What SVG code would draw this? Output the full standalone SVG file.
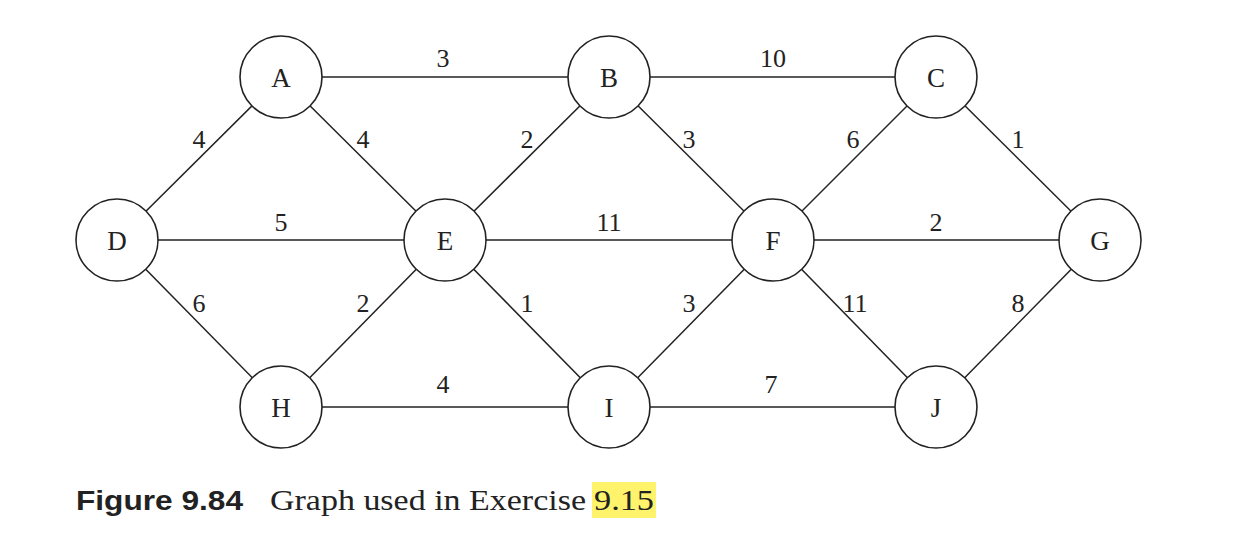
<svg xmlns="http://www.w3.org/2000/svg" width="1257" height="544" viewBox="0 0 1257 544">
<style>
.n circle{fill:#fff;stroke:#222;stroke-width:1.6}
.n text{font-family:"Liberation Serif",serif;font-size:27px;text-anchor:middle;fill:#222}
#edges line{stroke:#222;stroke-width:1.5}
.w{font-family:"Liberation Serif",serif;font-size:26px;text-anchor:middle;fill:#222}
.cap{font-family:"Liberation Serif",serif;font-size:29px;fill:#222}
</style>
<rect width="1257" height="544" fill="#fff"/>
<g id="edges">
<line x1="281" y1="77" x2="609" y2="77"/><line x1="609" y1="77" x2="936" y2="77"/>
<line x1="281" y1="77" x2="117" y2="240"/><line x1="281" y1="77" x2="445" y2="240"/>
<line x1="445" y1="240" x2="609" y2="77"/><line x1="609" y1="77" x2="773" y2="240"/>
<line x1="773" y1="240" x2="936" y2="77"/><line x1="936" y1="77" x2="1100" y2="240"/>
<line x1="117" y1="240" x2="1100" y2="240"/>
<line x1="117" y1="240" x2="281" y2="407"/><line x1="281" y1="407" x2="445" y2="240"/>
<line x1="445" y1="240" x2="609" y2="407"/><line x1="609" y1="407" x2="773" y2="240"/>
<line x1="773" y1="240" x2="936" y2="407"/><line x1="1100" y1="240" x2="936" y2="407"/>
<line x1="281" y1="407" x2="936" y2="407"/>
<text class="w" x="443" y="67">3</text><text class="w" x="773" y="67">10</text>
<text class="w" x="199" y="148">4</text><text class="w" x="363" y="148">4</text>
<text class="w" x="527" y="148">2</text><text class="w" x="689" y="148">3</text>
<text class="w" x="853" y="148">6</text><text class="w" x="1018" y="148">1</text>
<text class="w" x="281" y="231">5</text><text class="w" x="609" y="231">11</text>
<text class="w" x="936" y="231">2</text>
<text class="w" x="199" y="312">6</text><text class="w" x="363" y="312">2</text>
<text class="w" x="527" y="312">1</text><text class="w" x="689" y="312">3</text>
<text class="w" x="855" y="312">11</text><text class="w" x="1018" y="312">8</text>
<text class="w" x="443" y="393">4</text><text class="w" x="771" y="393">7</text>
</g>
<g id="A" class="n"><circle cx="281" cy="77" r="41"/><text x="281" y="87">A</text></g>
<g id="B" class="n"><circle cx="609" cy="77" r="41"/><text x="609" y="87">B</text></g>
<g id="C" class="n"><circle cx="936" cy="77" r="41"/><text x="936" y="87">C</text></g>
<g id="D" class="n"><circle cx="117" cy="240" r="41"/><text x="117" y="250">D</text></g>
<g id="E" class="n"><circle cx="445" cy="240" r="41"/><text x="445" y="250">E</text></g>
<g id="F" class="n"><circle cx="773" cy="240" r="41"/><text x="773" y="250">F</text></g>
<g id="G" class="n"><circle cx="1100" cy="240" r="41"/><text x="1100" y="250">G</text></g>
<g id="H" class="n"><circle cx="281" cy="407" r="41"/><text x="281" y="417">H</text></g>
<g id="I" class="n"><circle cx="609" cy="407" r="41"/><text x="609" y="417">I</text></g>
<g id="J" class="n"><circle cx="936" cy="407" r="41"/><text x="936" y="417">J</text></g>
<g id="caption">
<rect x="592" y="482" width="64" height="36" fill="#fff36b"/>
<text x="76" y="510" font-family="Liberation Sans,sans-serif" font-weight="bold" font-size="28" fill="#222" textLength="167" lengthAdjust="spacingAndGlyphs">Figure 9.84</text>
<text class="cap" x="270" y="510" textLength="316" lengthAdjust="spacingAndGlyphs">Graph used in Exercise</text>
<text class="cap" x="594" y="510" textLength="60" lengthAdjust="spacingAndGlyphs">9.15</text>
</g>
</svg>
